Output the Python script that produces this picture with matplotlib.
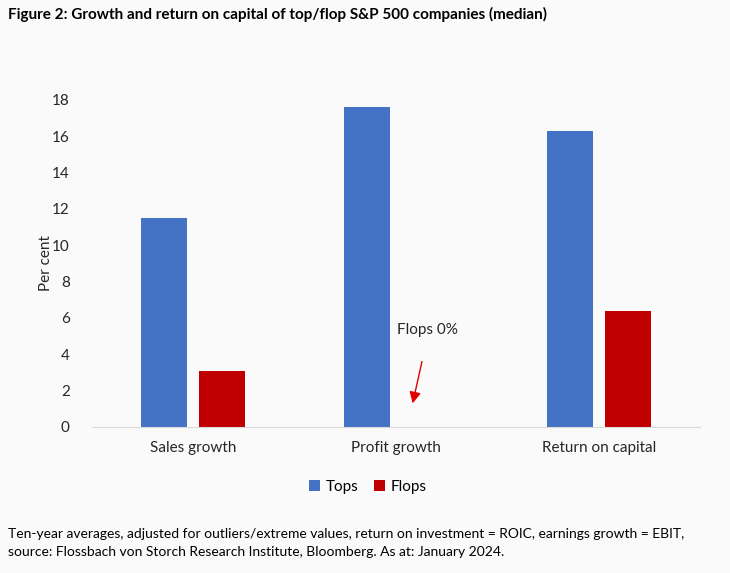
import matplotlib.pyplot as plt
import numpy as np

categories = ["Sales growth", "Profit growth", "Return on capital"]
tops = [11.5, 17.6, 16.3]
flops = [3.1, 0.0, 6.4]
yticks = [0, 2, 4, 6, 8, 10, 12, 14, 16, 18]

plt.rcParams['font.family'] = ['Lato', 'DejaVu Sans']

bg = '#FAFAFA'
fig = plt.figure(figsize=(7.3, 5.73), dpi=100, facecolor=bg)
ax = fig.add_axes([0.126, 0.2548, 0.833, 0.5707], facecolor=bg)

x = np.arange(len(categories))
w = 0.227
off = 0.1435
ax.bar(x - off, tops, w, color='#4472C4', label='Tops')
ax.bar(x + off, flops, w, color='#C00000', label='Flops')

ax.set_xlim(-0.5, 2.5)
ax.set_ylim(0, 18)
ax.set_yticks(yticks)
ax.set_xticks(x)
ax.set_xticklabels(categories)
ax.tick_params(axis='both', length=0, labelsize=11, colors='#262626')
ax.tick_params(axis='x', pad=10)
ax.tick_params(axis='y', pad=16)
for s in ['top', 'right', 'left']:
    ax.spines[s].set_visible(False)
ax.spines['bottom'].set_color('#D9D9D9')
ax.set_ylabel('Per cent', fontsize=11, color='#262626', labelpad=-1)

# note for the zero bar
ax.text(1.005, 5.34, 'Flops 0%', fontsize=11, color='#262626', va='center')
ax.annotate('', xy=(1.082, 1.3), xytext=(1.128, 3.6),
            arrowprops=dict(arrowstyle='-|>', color='#E00000', lw=1,
                            mutation_scale=17, shrinkA=0, shrinkB=0))

fig.legend(loc='center', bbox_to_anchor=(368 / 730, 1 - 487 / 573), ncol=2,
           frameon=False, fontsize=11, handlelength=0.7, handleheight=0.7,
           handletextpad=0.4, columnspacing=1.0)

fig.text(8 / 730, 1 - 14 / 573, 'Figure 2: Growth and return on capital of top/flop S&P 500 companies (median)',
         fontsize=11, fontweight='bold', va='center', color='black')
fig.text(8 / 730, 1 - 534 / 573,
         'Ten-year averages, adjusted for outliers/extreme values, return on investment = ROIC, earnings growth = EBIT,',
         fontsize=10, va='center', color='black')
fig.text(8 / 730, 1 - 552 / 573,
         'source: Flossbach von Storch Research Institute, Bloomberg. As at: January 2024.',
         fontsize=10, va='center', color='black')

fig.savefig('out.png', dpi=100, facecolor=bg)
